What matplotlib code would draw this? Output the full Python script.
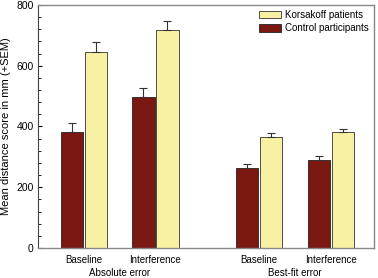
import numpy as np
import matplotlib
matplotlib.use("Agg")
import matplotlib.pyplot as plt
from matplotlib.ticker import MultipleLocator

plt.rcParams['font.family'] = ['Liberation Sans', 'DejaVu Sans']

conditions = ['Baseline', 'Interference', 'Baseline', 'Interference']
groups = ['Absolute error', 'Best-fit error']
korsakoff = [646, 718, 364, 381]
korsakoff_sem = [33, 29, 13, 11]
control = [381, 497, 263, 290]
control_sem = [31, 29, 14, 12]

pos = np.array([0, 1, 2.45, 3.45])
w = 0.31
off = 0.168
red = '#7b1812'
yellow = '#f8f0a2'

fig = plt.figure(figsize=(3.78, 2.78), dpi=100)
ax = fig.add_axes([38/378, 1 - 248/278, 336/378, 243/278])

ax.bar(pos - off, control, w, color=red, edgecolor='#222222', linewidth=0.6,
       yerr=[np.zeros(4), control_sem], error_kw=dict(ecolor='#333333', elinewidth=0.8, capsize=3, capthick=0.8),
       label='Control participants', zorder=2)
ax.bar(pos + off, korsakoff, w, color=yellow, edgecolor='#333333', linewidth=0.6,
       yerr=[np.zeros(4), korsakoff_sem], error_kw=dict(ecolor='#333333', elinewidth=0.8, capsize=3, capthick=0.8),
       label='Korsakoff patients', zorder=2)

ax.set_xlim(-0.643, 4.056)
ax.set_ylim(0, 800)
ax.yaxis.set_major_locator(MultipleLocator(200))
ax.yaxis.set_minor_locator(MultipleLocator(40))
ax.tick_params(axis='y', which='both', direction='in', labelsize=7.5, pad=3)
ax.tick_params(axis='y', which='major', length=3)
ax.tick_params(axis='y', which='minor', length=2)
ax.set_xticks(pos)
ax.set_xticklabels(conditions, fontsize=7)
ax.tick_params(axis='x', length=0, pad=5)

for s in ['top', 'right', 'bottom']:
    ax.spines[s].set_color('#888888')
    ax.spines[s].set_linewidth(1.0)
ax.spines['left'].set_color('#444444')
ax.spines['left'].set_linewidth(0.8)

ax.set_ylabel('Mean distance score in mm (+SEM)', fontsize=8, labelpad=4)

for i, g in enumerate(groups):
    ax.text((pos[2*i] + pos[2*i+1]) / 2, -0.103, g, transform=ax.get_xaxis_transform(),
            ha='center', va='center', fontsize=7)

h, l = ax.get_legend_handles_labels()
ax.legend(h[::-1], l[::-1], loc='upper right', frameon=False, fontsize=7,
          handlelength=2.2, handleheight=0.8, handletextpad=0.5, labelspacing=0.35,
          borderaxespad=0.1, bbox_to_anchor=(1.0, 1.0))

fig.savefig('out.png', dpi=100)
